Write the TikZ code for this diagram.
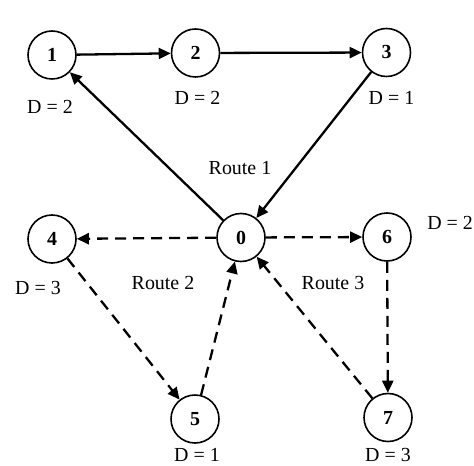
\documentclass[tikz,border=0pt]{standalone}
\usepackage{fontspec}
\setmainfont{Liberation Serif}
\usetikzlibrary{arrows.meta, positioning}

\begin{document}
\begin{tikzpicture}[
  x=1bp, y=-1bp,
  site/.style={draw, circle, line width=1.6pt,
               minimum size=48bp, inner sep=0pt,
               font=\fontsize{20}{22}\selectfont\bfseries},
  dlabel/.style={font=\fontsize{20}{22}\selectfont},
  route/.style={-{Triangle[length=12bp, width=11bp]}, line width=2.3pt},
  trip/.style={route, dash pattern=on 11bp off 7bp},
]
\useasboundingbox (0,0) rectangle (474,466);

% customers and depot
\node[site] (depot) at (241,237.5) {0};
\node[site] (c1) at (52,55) {1};
\node[site] (c2) at (195.5,53) {2};
\node[site] (c3) at (386.5,52.5) {3};
\node[site] (c4) at (52,239) {4};
\node[site] (c5) at (195,419) {5};
\node[site] (c6) at (387,237) {6};
\node[site] (c7) at (388,417.5) {7};

% demands
\node[dlabel, below=17bp of c1, xshift=-2bp] (d1) {D = 2};
\node[dlabel, below=10bp of c2, xshift=2bp] (d2) {D = 2};
\node[dlabel, below=11bp of c3, xshift=5bp] (d3) {D = 1};
\node[dlabel, below=14bp of c4, xshift=-14bp] (d4) {D = 3};
\node[dlabel, below=1bp of c5, xshift=2bp] (d5) {D = 1};
\node[dlabel, below=2bp of c7] (d7) {D = 3};
\node[dlabel, right=12bp of c6, yshift=14bp] (d6) {D = 2};

% route names
\node[dlabel] (r1) at (240,168) {Route 1};
\node[dlabel] (r2) at (163,283) {Route 2};
\node[dlabel] (r3) at (333,283) {Route 3};

% route 1
\draw[route] (depot) -- (c1);
\draw[route] (c1) -- (c2);
\draw[route] (c2) -- (c3);
\draw[route] (c3) -- (depot);

% route 2
\draw[trip] (depot) -- (c4);
\draw[trip] (c4) -- (c5);
\draw[trip] (c5) -- (depot);

% route 3
\draw[trip] (depot) -- (c6);
\draw[trip] (c6) -- (c7);
\draw[trip] (c7) -- (depot);
\end{tikzpicture}
\end{document}
